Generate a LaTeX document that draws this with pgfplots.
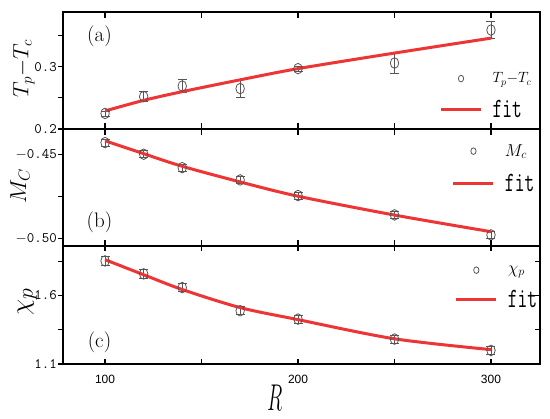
\documentclass[border=0pt]{standalone}
\usepackage{fontspec}
\usepackage{graphicx}
\usepackage{pgfplots}
\pgfplotsset{compat=1.18}
\newfontfamily\lsans{Liberation Sans}
\definecolor{fitred}{RGB}{238,52,52}
\definecolor{mk}{RGB}{85,85,85}

\pgfplotstableread{
x y e
100 0.225 0.004
120 0.252 0.008
140 0.269 0.010
170 0.265 0.014
200 0.297 0.004
250 0.306 0.016
300 0.359 0.014
}\dataA
\pgfplotstableread{
x y
100 0.229
120 0.246
140 0.260
170 0.279
200 0.297
250 0.322
300 0.346
}\fitA
\pgfplotstableread{
x y e
100 -0.4431 0.002
120 -0.4500 0.002
140 -0.4580 0.002
170 -0.4653 0.002
200 -0.4746 0.002
250 -0.4861 0.002
300 -0.4980 0.002
}\dataB
\pgfplotstableread{
x y
100 -0.4420
120 -0.4497
140 -0.4572
170 -0.4665
200 -0.4750
250 -0.4862
300 -0.4961
}\fitB
\pgfplotstableread{
x y e
100 1.853 0.03
120 1.758 0.03
140 1.658 0.03
170 1.489 0.03
200 1.428 0.03
250 1.282 0.03
300 1.199 0.03
}\dataC
\pgfplotstableread{
x y
100 1.862
120 1.752
140 1.644
170 1.512
200 1.424
250 1.284
300 1.205
}\fitC

\tikzset{plab/.style={font=\fontsize{21}{22}\selectfont, anchor=center}}
\newcommand{\fitlab}{\scalebox{0.68}[1]{\fontsize{28}{28}\selectfont\ttfamily fit}}
\newcommand{\legmath}[2][1]{\scalebox{#1}{\fontsize{17.28}{18}\selectfont$#2$}}

\pgfplotsset{
 base/.style={width=477pt, scale only axis, xmin=78.2, xmax=325.4,
   axis line style={line width=1.4pt}, every tick/.style={black, line width=1.2pt}, clip=false},
 mainax/.style={base, tick align=outside, xtick=\empty, ytick pos=left,
   major tick length=5pt, minor tick length=5pt,
   yticklabel style={font=\fontsize{14.5}{15}\selectfont\ttfamily, inner sep=1pt},
   ylabel style={anchor=center},
   legend style={draw=none, fill=none, anchor=west, row sep=14pt,
     inner sep=0pt, nodes={inner sep=1pt},
     column sep=9pt, cells={anchor=west}}},
 overax/.style={base, tick align=inside, xtick={100,200,300}, minor xtick={150,250},
   xtick pos=both, major tick length=6pt, minor tick length=6pt, xticklabels={}},
 dat/.style={only marks, mark=o, mk, mark size=5.3pt, mark options={xscale=0.8, line width=0.8pt},
   error bars/y dir=both, error bars/y explicit,
   error bars/error bar style={line width=0.8pt, mk},
   error bars/error mark options={rotate=90, mark size=4.5pt, line width=0.8pt, mk}},
 fitl/.style={fitred, line width=3pt, smooth, no marks},
 dleg/.style={legend image code/.code={\draw[##1, mark size=3.3pt] plot coordinates {(20pt,0pt)};}},
 fleg/.style={legend image code/.code={\draw[##1] (0pt,0pt) -- (40pt,0pt);}},
}

\begin{document}
\begin{tikzpicture}
\useasboundingbox (0,0) rectangle (550pt,419pt);

% ---------- panel (a)
\begin{axis}[mainax, at={(63pt,290pt)}, anchor=south west, height=117pt,
  ymin=0.2, ymax=0.388, ytick={0.2,0.3}, minor ytick={0.25,0.35},
  yticklabels={0.2,0.3},
  ylabel={\scalebox{1.06}{\fontsize{20.74}{22}\selectfont$T_p{-}T_c$}},
  ylabel style={at={(axis description cs:-0.082,0.517)}},
  legend style={at={(axis description cs:0.789,0.282)}}]
\addplot[dat, dleg] table[x=x, y=y, y error=e] {\dataA};
\addlegendentry{\legmath[0.86]{T_p{-}T_c}}
\addplot[fitl, fleg] table[x=x, y=y] {\fitA};
\addlegendentry{\fitlab}
\node[plab] at (axis description cs:0.0765,0.79) {(a)};
\end{axis}
\begin{axis}[overax, at={(63pt,290pt)}, anchor=south west, height=117pt,
  ymin=0.2, ymax=0.388, hide y axis]
\end{axis}

% ---------- panel (b)
\begin{axis}[mainax, at={(63pt,173pt)}, anchor=south west, height=117pt,
  ymin=-0.5046, ymax=-0.435, ytick={-0.5,-0.45}, minor ytick={-0.475},
  yticklabels={$-$0.50,$-$0.45},
  ylabel={\scalebox{1.11}{\fontsize{20.74}{22}\selectfont$M_C$}},
  ylabel style={at={(axis description cs:-0.090,0.513)}},
  legend style={at={(axis description cs:0.815,0.662)}}]
\addplot[dat, dleg] table[x=x, y=y, y error=e] {\dataB};
\addlegendentry{\legmath{M_c}}
\addplot[fitl, fleg] table[x=x, y=y] {\fitB};
\addlegendentry{\fitlab}
\node[plab] at (axis description cs:0.0765,0.205) {(b)};
\end{axis}
\begin{axis}[overax, at={(63pt,173pt)}, anchor=south west, height=117pt,
  ymin=-0.5046, ymax=-0.435, hide y axis]
\end{axis}

% ---------- panel (c)
\begin{axis}[mainax, at={(63pt,55pt)}, anchor=south west, height=118pt,
  ymin=1.1, ymax=1.962, ytick={1.1,1.6}, minor ytick={1.35,1.85},
  yticklabels={1.1,1.6},
  ylabel={\scalebox{1.05}{\fontsize{24.88}{26}\selectfont$\chi_p$}},
  ylabel style={at={(axis description cs:-0.075,0.53)}},
  legend style={at={(axis description cs:0.821,0.648)}}]
\addplot[dat, dleg] table[x=x, y=y, y error=e] {\dataC};
\addlegendentry{\legmath{\chi_p}}
\addplot[fitl, fleg] table[x=x, y=y] {\fitC};
\addlegendentry{\fitlab}
\node[plab] at (axis description cs:0.0765,0.186) {(c)};
\end{axis}
\begin{axis}[overax, at={(63pt,55pt)}, anchor=south west, height=118pt,
  ymin=1.1, ymax=1.962, ytick={1.1,1.6}, minor ytick={1.35,1.85},
  ytick pos=right, yticklabels={}, major tick length=5pt, minor tick length=5pt,
  xticklabels={100,200,300},
  xticklabel style={font=\lsans\fontsize{12}{13}\selectfont, yshift=-8pt},
  xlabel={\scalebox{0.8}[1.5]{\fontsize{24.88}{26}\selectfont$R$}},
  xlabel style={at={(axis description cs:0.444,-0.288)}, anchor=center, inner sep=1pt}]
\end{axis}
\end{tikzpicture}
\end{document}
